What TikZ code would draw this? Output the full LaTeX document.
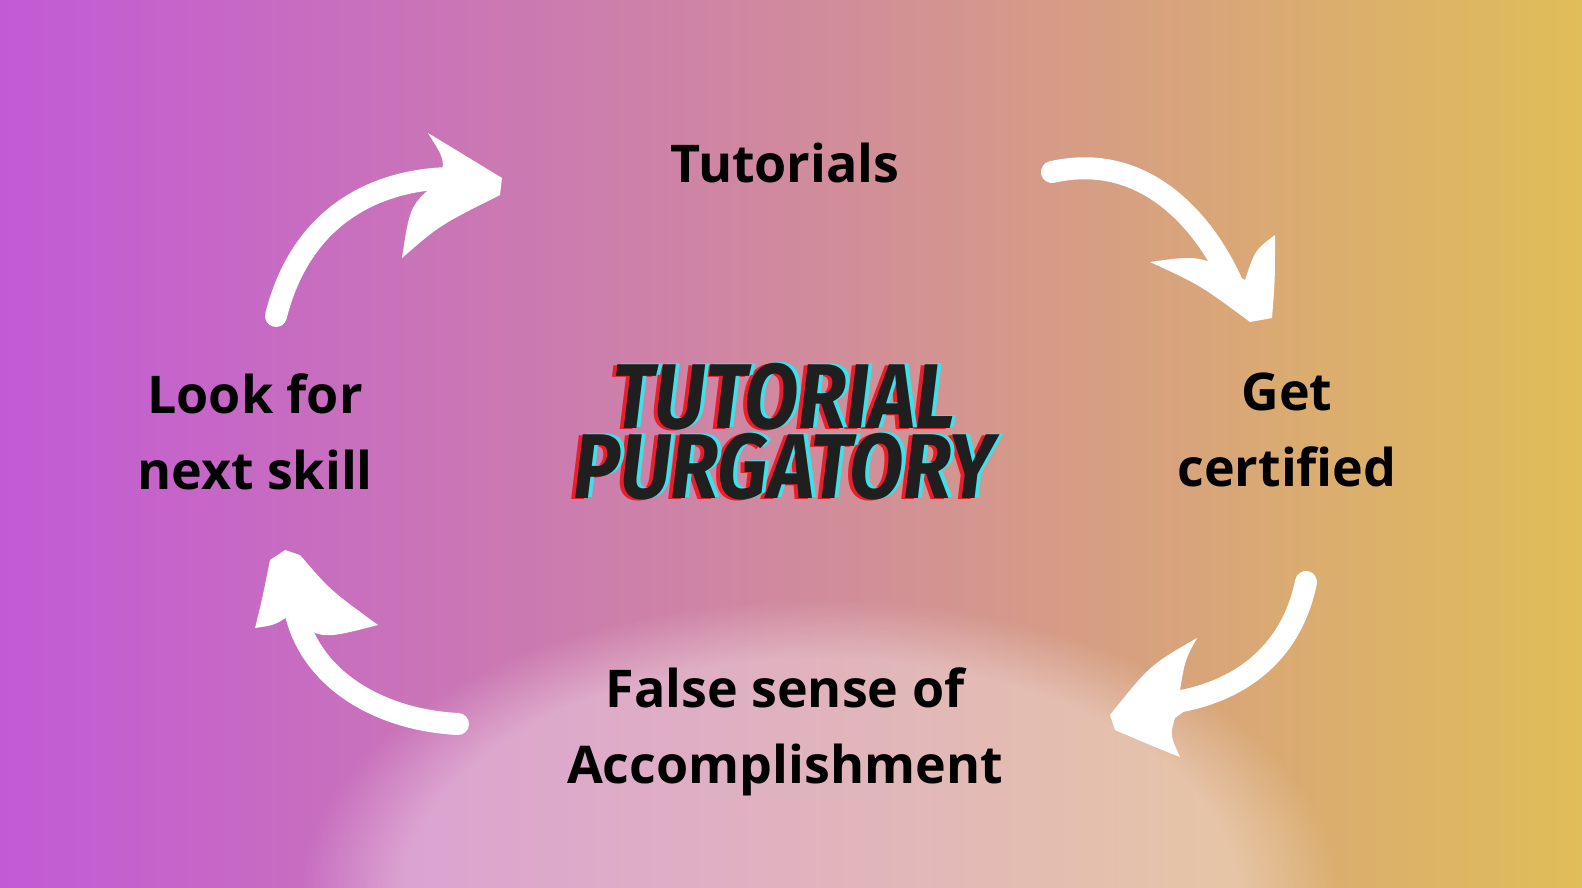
\documentclass[tikz,border=0pt]{standalone}
\usepackage{fontspec}
\usetikzlibrary{fadings}
\setmainfont{Open Sans}
\newfontfamily\titlefont{Fira Sans}
\definecolor{cpurple}{HTML}{C25AD6}
\definecolor{cpink}{HTML}{D08A9E}
\definecolor{cyell}{HTML}{E0BE58}
\definecolor{ccyan}{HTML}{3FE0E8}
\definecolor{cred}{HTML}{E81E2A}
\begin{document}
\begin{tikzpicture}[x=1pt,y=-1pt,
  lbl/.style={font=\fontsize{52}{76}\selectfont\bfseries, align=center, text=black},
  ttl/.style={font=\titlefont\fontsize{92}{70}\selectfont\bfseries\itshape, align=center, xscale=0.86},
  arr/.style={white, line width=22pt, line cap=round},
  head/.style={fill=white}]
\useasboundingbox (0,0) rectangle (1582,888);
\shade[left color=cpurple, right color=cyell, middle color=cpink] (0,0) rectangle (1582,888);
\begin{scope}
\clip (0,0) rectangle (1582,888);
\fill[white, opacity=0.35, path fading=circle with fuzzy edge 20 percent] (820,900) ellipse (520 and 300);
\end{scope}
% labels
\node[lbl] (tut) at (785,163) {Tutorials};
\node[lbl] (cert) at (1287,430) {Get\\certified};
\node[lbl] (false) at (785,732) {False sense of\\Accomplishment};
\node[lbl] (look) at (255,432) {Look for\\next skill};
% title
\node[ttl, text=cred] (t1) at (780,433) {TUTORIAL\\PURGATORY};
\node[ttl, text=ccyan] (t2) at (788,431) {TUTORIAL\\PURGATORY};
\node[ttl, text=black!88] (t) at (784,432) {TUTORIAL\\PURGATORY};
% arrows
\coordinate (a1s) at (276,316); \coordinate (a1e) at (450,178);
\draw[arr] (a1s) .. controls (300,220) and (370,180) .. (a1e);
\fill[head] (502,178) -- (428,133) .. controls (445,160) .. (440,180) .. controls (410,205) .. (402,258) .. controls (440,225) .. (500,195) -- cycle;
\coordinate (a2s) at (1052,172); \coordinate (a2e) at (1235,290);
\draw[arr] (a2s) .. controls (1150,150) and (1210,230) .. (a2e);
\fill[head] (1250,322) -- (1272,318) .. controls (1275,280) .. (1275,235) .. controls (1255,250) .. (1245,280) .. controls (1200,255) .. (1150,262) .. controls (1200,285) .. (1250,322) -- cycle;
\coordinate (a3s) at (1306,582); \coordinate (a3e) at (1150,705);
\draw[arr] (a3s) .. controls (1290,660) and (1230,700) .. (a3e);
\fill[head] (1110,715) -- (1115,730) .. controls (1150,745) .. (1180,757) .. controls (1170,735) .. (1175,718) .. controls (1200,700) .. (1180,690) .. controls (1185,660) .. (1197,638) .. controls (1150,665) .. (1110,715) -- cycle;
\coordinate (a4s) at (458,724); \coordinate (a4e) at (295,610);
\draw[arr] (a4s) .. controls (380,720) and (310,680) .. (a4e);
\fill[head] (285,550) -- (270,560) .. controls (262,600) .. (255,628) .. controls (275,625) .. (290,615) .. controls (320,640) .. (378,625) .. controls (330,590) .. (300,555) -- cycle;
\end{tikzpicture}
\end{document}
